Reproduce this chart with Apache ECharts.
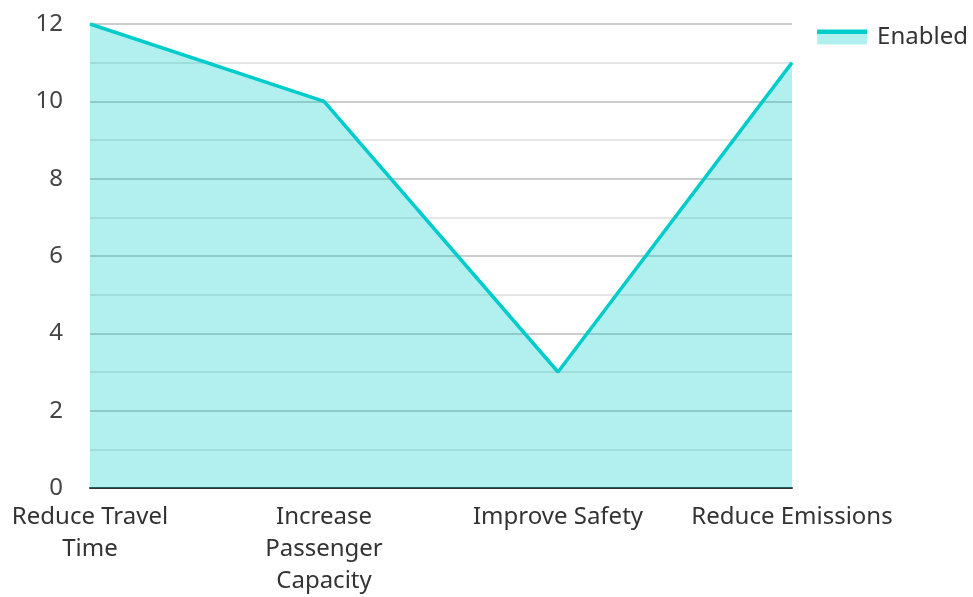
<!DOCTYPE html>
<html><head><meta charset="utf-8">
<script src="https://cdn.jsdelivr.net/npm/echarts@6/dist/echarts.min.js"></script>
<style>html,body{margin:0;padding:0;background:#fff}#c{width:973px;height:597px}</style>
</head><body><div id="c"></div>
<script>
const categories = ['Reduce Travel\nTime', 'Increase\nPassenger\nCapacity', 'Improve Safety', 'Reduce Emissions'];
const seriesName = 'Enabled';
const values = [12, 10, 3, 11];
const yTicks = [0, 2, 4, 6, 8, 10, 12];

const chart = echarts.init(document.getElementById('c'), null, {renderer: 'canvas'});
chart.setOption({
  animation: false,
  textStyle: {fontFamily: 'Noto Sans'},
  legend: {
    right: 5, top: 25, padding: 0,
    icon: 'rect',
    itemWidth: 50, itemHeight: 15, itemGap: 10,
    textStyle: {fontSize: 24, color: '#333', fontFamily: 'Noto Sans', padding: [0, 0, 0, 5]},
    itemStyle: {
      color: {type: 'linear', x: 0, y: 0, x2: 0, y2: 1, colorStops: [
        {offset: 0, color: '#00cccc'}, {offset: 0.27, color: '#00cccc'},
        {offset: 0.27, color: '#b2f0f0'}, {offset: 1, color: '#b2f0f0'}
      ]}
    },
    data: [seriesName]
  },
  grid: {left: 90, right: 181, top: 24, bottom: 105},
  xAxis: {
    type: 'category', data: categories, boundaryGap: false,
    axisLine: {lineStyle: {color: '#333', width: 2}},
    axisTick: {show: false},
    axisLabel: {interval: 0, fontSize: 24, color: '#333', lineHeight: 32, margin: 13, fontFamily: 'Noto Sans'},
    splitLine: {show: false}
  },
  yAxis: {
    type: 'value', min: yTicks[0], max: yTicks[yTicks.length - 1], interval: 2,
    axisLine: {show: false}, axisTick: {show: false},
    axisLabel: {fontSize: 24, color: '#444', margin: 27, fontFamily: 'Noto Sans'},
    splitLine: {lineStyle: {color: '#cccccc', width: 2}},
    minorTick: {show: false, splitNumber: 2},
    minorSplitLine: {show: true, lineStyle: {color: '#e6e6e6', width: 2}}
  },
  series: [{
    name: seriesName, type: 'line', data: values,
    symbol: 'none', showSymbol: false,
    lineStyle: {color: '#00cccc', width: 3.5},
    itemStyle: {color: '#00cccc'},
    areaStyle: {color: '#00cccc', opacity: 0.3}
  }]
});
</script></body></html>
